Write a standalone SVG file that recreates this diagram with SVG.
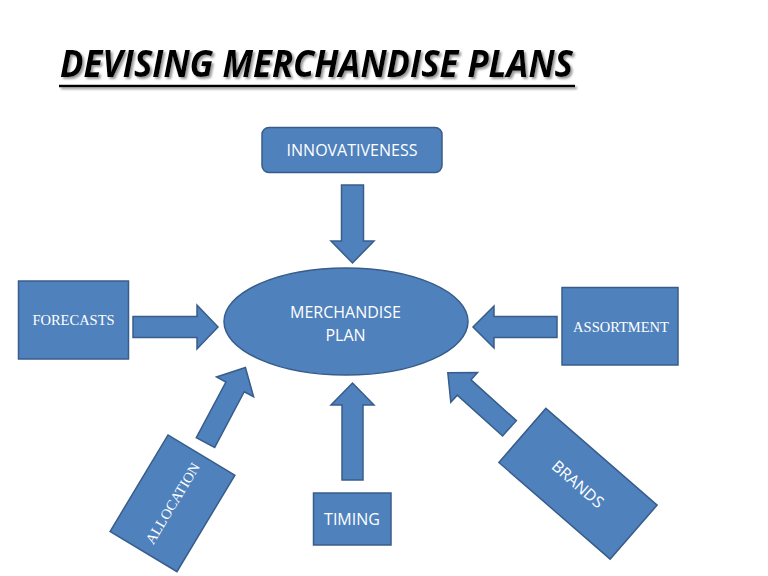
<svg xmlns="http://www.w3.org/2000/svg" width="768" height="576" viewBox="0 0 768 576">
<defs>
<filter id="shadow" x="-5%" y="-30%" width="110%" height="160%">
<feDropShadow dx="2" dy="2" stdDeviation="1" flood-color="#808080" flood-opacity="0.8"/>
</filter>
</defs>
<style>
.shape{fill:#4F81BD;stroke:#385D8A;stroke-width:1.5}
.arrow{fill:#4F81BD;stroke:#385D8A;stroke-width:1.5;stroke-linejoin:miter}
.sans{font-family:"Open Sans","Liberation Sans",sans-serif;fill:#FFFFFF;font-size:16px;text-anchor:middle}
.serif{font-family:"Liberation Serif","Times New Roman",serif;fill:#FFFFFF;font-size:14.5px;text-anchor:middle}
.title{font-family:"Open Sans","Liberation Sans",sans-serif;font-weight:bold;font-style:italic;font-size:37px}
</style>
<rect width="768" height="576" fill="#FFFFFF"/>
<g id="title" filter="url(#shadow)">
<text class="title" x="60" y="77" fill="#000000" textLength="513" lengthAdjust="spacingAndGlyphs">DEVISING MERCHANDISE PLANS</text>
<line x1="59" y1="86" x2="575" y2="86" stroke="#000000" stroke-width="2.5"/>
</g>
<g id="connectors">
<polygon class="arrow" transform="translate(352.5,185) rotate(90)" points="0,-11 56,-11 56,-21.5 78,0 56,21.5 56,11 0,11"/>
<polygon class="arrow" transform="translate(133,327)" points="0,-10.5 64,-10.5 64,-22 85,0 64,22 64,10.5 0,10.5"/>
<polygon class="arrow" transform="translate(557,327) rotate(180)" points="0,-10.5 63,-10.5 63,-21 84,0 63,21 63,10.5 0,10.5"/>
<polygon class="arrow" transform="translate(352.5,480) rotate(-90)" points="0,-10.5 75,-10.5 75,-21.5 97,0 75,21.5 75,10.5 0,10.5"/>
<polygon class="arrow" transform="translate(205.5,442.5) rotate(-62)" points="0,-10.4 63,-10.4 63,-21 85,0 63,21 63,10.4 0,10.4"/>
<polygon class="arrow" transform="translate(509.5,428.3) rotate(-138)" points="0,-10.3 61,-10.3 61,-20 83,0 61,20 61,10.3 0,10.3"/>
</g>
<g id="merchandise-plan">
<ellipse class="shape" cx="346" cy="321.5" rx="122" ry="53.5"/>
<text class="sans" x="345.5" y="318" font-size="16.5">MERCHANDISE</text>
<text class="sans" x="345.5" y="340.5" font-size="16.5">PLAN</text>
</g>
<g id="innovativeness">
<rect class="shape" x="262" y="127.5" width="180" height="45" rx="7" ry="7"/>
<text class="sans" x="352" y="156">INNOVATIVENESS</text>
</g>
<g id="forecasts">
<rect class="shape" x="18.5" y="281" width="110" height="78"/>
<text class="serif" x="73.5" y="325" font-size="14.7">FORECASTS</text>
</g>
<g id="assortment">
<rect class="shape" x="562" y="287.5" width="116" height="77.5"/>
<text class="serif" x="621" y="331.5">ASSORTMENT</text>
</g>
<g id="timing">
<rect class="shape" x="313.5" y="493" width="77.5" height="52"/>
<text class="sans" x="352" y="525">TIMING</text>
</g>
<g id="allocation" transform="translate(172.5,503.3) rotate(-59)">
<rect class="shape" x="-56.25" y="-39" width="112.5" height="78"/>
<text class="serif" x="0" y="5">ALLOCATION</text>
</g>
<g id="brands" transform="translate(578,483.8) rotate(41)">
<rect class="shape" x="-73.7" y="-35.8" width="147.4" height="71.6"/>
<text class="sans" x="0" y="6" font-size="17">BRANDS</text>
</g>
</svg>
